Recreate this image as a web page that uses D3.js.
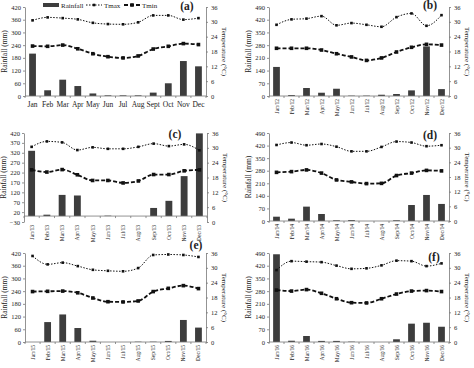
<!DOCTYPE html>
<html>
<head>
<meta charset="UTF-8">
<title>Rainfall and temperature</title>
<script src="https://d3js.org/d3.v7.min.js"></script>
<style>
  body { margin: 0; background: #fff; }
  svg { display: block; }
  text { font-family: "Liberation Serif", "Times New Roman", serif; fill: #222; }
  .axis path, .axis line { stroke: #777; stroke-width: 0.8; }
</style>
</head>
<body>
<svg id="chart" width="474" height="368"></svg>
<script>
// month labels
const monthNames = ["Jan", "Feb", "Mar", "Apr", "May", "Jun", "Jul", "Aug", "Sept", "Oct", "Nov", "Dec"];
const monthShort = ["Jan", "Feb", "Mar", "Apr", "May", "Jun", "Jul", "Aug", "Sep", "Oct", "Nov", "Dec"];

// rainfall (mm)
const rainA = [200, 27, 77, 47, 12, 3, 3, 3, 16, 60, 165, 140];
const rainB = [160, 5, 44, 18, 40, 2, 2, 7, 11, 31, 273, 38];
const rainC = [330, 7, 107, 104, 0, 2, 0, 0, 41, 77, 202, 418];
const rainD = [24, 13, 80, 39, 4, 5, 0, 0, 4, 89, 145, 95];
const rainE = [0, 94, 130, 66, 6, 0, 0, 1.5, 1.5, 5, 104, 68];
const rainF = [483, 7, 33, 6, 6, 2, 0, 0, 15, 101, 106, 84];

// max temperature (°C)
const tmaxA = [30.6, 31.8, 31.5, 31.0, 29.6, 29.1, 29.0, 29.8, 32.6, 32.6, 30.9, 31.5];
const tmaxB = [28.8, 31.0, 31.3, 32.3, 28.6, 29.5, 28.8, 28.0, 31.9, 33.4, 28.4, 32.7];
const tmaxC = [30.4, 32.6, 32.2, 29.1, 30.2, 29.6, 29.6, 30.4, 31.7, 30.7, 31.4, 29.0];
const tmaxD = [31.1, 32.1, 31.0, 31.5, 30.4, 28.5, 28.5, 30.3, 32.5, 32.1, 30.6, 31.0];
const tmaxE = [34.8, 31.4, 32.1, 30.7, 29.2, 28.8, 28.6, 29.9, 35.2, 35.4, 35.2, 34.4];
const tmaxF = [29.1, 32.7, 32.5, 32.3, 30.9, 29.6, 29.8, 31.0, 32.9, 32.7, 30.7, 31.8];

// min temperature (°C)
const tminA = [20.2, 20.1, 20.6, 19.1, 17.1, 15.9, 15.4, 16.2, 19.0, 20.1, 21.2, 20.8];
const tminB = [19.3, 19.3, 19.3, 18.6, 17.1, 15.8, 14.4, 15.4, 17.8, 19.7, 20.9, 20.6];
const tminC = [21.1, 20.2, 21.2, 19.1, 16.8, 16.8, 15.8, 16.6, 19.2, 19.2, 20.7, 21.1];
const tminD = [19.9, 20.2, 20.9, 19.6, 16.8, 16.0, 15.3, 15.4, 18.6, 19.6, 20.7, 20.5];
const tminE = [20.4, 20.5, 20.6, 19.9, 17.8, 16.3, 16.2, 16.6, 20.4, 21.7, 22.8, 21.6];
const tminF = [21.0, 20.6, 21.2, 19.7, 17.5, 15.9, 15.8, 17.5, 19.4, 20.6, 20.8, 20.4];

const tempTicks = [0, 6, 12, 18, 24, 30, 36];

const yearLabels = yr => monthShort.map(m => m + "/" + yr);

const panels = [
  { tag: "(a)", rain: rainA, tmax: tmaxA, tmin: tminA, labels: monthNames, rotate: false,
    left: 25, right: 206, top: 7, bottom: 96, rMin: 0, rMax: 420, rStep: 60, tagPos: [187, 10], legend: true },
  { tag: "(b)", rain: rainB, tmax: tmaxB, tmin: tminB, labels: yearLabels("12"), rotate: true,
    left: 269, right: 449, top: 7, bottom: 96, rMin: 0, rMax: 490, rStep: 70, tagPos: [430, 9] },
  { tag: "(c)", rain: rainC, tmax: tmaxC, tmin: tminC, labels: yearLabels("13"), rotate: true,
    left: 24, right: 207, top: 133, bottom: 222, rMin: -30, rMax: 420, rStep: 50, tagPos: [175, 138] },
  { tag: "(d)", rain: rainD, tmax: tmaxD, tmin: tminD, labels: yearLabels("14"), rotate: true,
    left: 269, right: 449, top: 133, bottom: 221, rMin: 0, rMax: 490, rStep: 70, tagPos: [430, 139] },
  { tag: "(e)", rain: rainE, tmax: tmaxE, tmin: tminE, labels: yearLabels("15"), rotate: true,
    left: 25, right: 206, top: 253, bottom: 342, rMin: 0, rMax: 420, rStep: 60, tagPos: [196, 249] },
  { tag: "(f)", rain: rainF, tmax: tmaxF, tmin: tminF, labels: yearLabels("16"), rotate: true,
    left: 269, right: 449, top: 253, bottom: 342, rMin: 0, rMax: 490, rStep: 70, tagPos: [434, 261] }
];

const svg = d3.select("#chart");

function drawPanel(p) {
  const g = svg.append("g");
  const x = d3.scaleBand().domain(p.labels).range([p.left, p.right]).paddingInner(0.55).paddingOuter(0.275);
  const yR = d3.scaleLinear().domain([p.rMin, p.rMax]).range([p.bottom, p.top]);
  const yT = d3.scaleLinear().domain([0, 36]).range([p.bottom, p.top]);
  const rTicks = d3.range(p.rMin, p.rMax + 1, p.rStep);

  // bars
  g.selectAll("rect.bar").data(p.rain).join("rect")
    .attr("class", "bar")
    .attr("x", (d, i) => x(p.labels[i]))
    .attr("width", x.bandwidth())
    .attr("y", d => yR(Math.max(d, 0)))
    .attr("height", d => Math.abs(yR(0) - yR(d)))
    .attr("fill", "#3d3d3d");

  // left axis
  const la = g.append("g").attr("class", "axis")
    .attr("transform", `translate(${p.left},0)`)
    .call(d3.axisLeft(yR).tickValues(rTicks).tickSize(2).tickSizeOuter(0).tickPadding(2));
  la.selectAll("text").style("font-size", "6.5px");

  // right axis
  const ra = g.append("g").attr("class", "axis")
    .attr("transform", `translate(${p.right},0)`)
    .call(d3.axisRight(yT).tickValues(tempTicks).tickSize(2).tickSizeOuter(0).tickPadding(3));
  ra.selectAll("text").style("font-size", "6.5px");

  // category axis line at zero
  const base = yR(0);
  g.append("line").attr("x1", p.left).attr("x2", p.right).attr("y1", base).attr("y2", base)
    .attr("stroke", "#777").attr("stroke-width", 0.8);
  const step = (p.right - p.left) / p.labels.length;
  g.selectAll("line.ct").data(d3.range(p.labels.length + 1)).join("line")
    .attr("class", "ct")
    .attr("x1", i => p.left + i * step).attr("x2", i => p.left + i * step)
    .attr("y1", base).attr("y2", base + 2)
    .attr("stroke", "#777").attr("stroke-width", 0.8);

  // category labels
  const cx = d => x(d) + x.bandwidth() / 2;
  if (p.rotate) {
    g.selectAll("text.cat").data(p.labels).join("text")
      .attr("class", "cat")
      .attr("transform", d => `translate(${cx(d) + 2},${p.bottom + 3}) rotate(-90)`)
      .attr("text-anchor", "end")
      .style("font-size", "5.5px")
      .text(d => d);
  } else {
    g.selectAll("text.cat").data(p.labels).join("text")
      .attr("class", "cat")
      .attr("x", cx).attr("y", p.bottom + 10.5)
      .attr("text-anchor", "middle")
      .style("font-size", "7.5px")
      .text(d => d);
  }

  // lines
  const lineT = d3.line().x((d, i) => cx(p.labels[i])).y(d => yT(d)).curve(d3.curveMonotoneX);
  g.append("path").datum(p.tmax).attr("d", lineT)
    .attr("fill", "none").attr("stroke", "#111").attr("stroke-width", 1).attr("stroke-dasharray", "1.5,1.5");
  g.selectAll("rect.mx").data(p.tmax).join("rect")
    .attr("class", "mx")
    .attr("x", (d, i) => cx(p.labels[i]) - 1.3).attr("y", d => yT(d) - 1.3)
    .attr("width", 2.6).attr("height", 2.6).attr("fill", "#111");
  g.append("path").datum(p.tmin).attr("d", lineT)
    .attr("fill", "none").attr("stroke", "#111").attr("stroke-width", 1.8).attr("stroke-dasharray", "4,2");
  g.selectAll("rect.mn").data(p.tmin).join("rect")
    .attr("class", "mn")
    .attr("x", (d, i) => cx(p.labels[i]) - 1.8).attr("y", d => yT(d) - 1.8)
    .attr("width", 3.6).attr("height", 3.6).attr("fill", "#111");

  // axis titles
  const ly = (p.top + p.bottom) / 2;
  g.append("text")
    .attr("transform", `translate(${p.left - 18},${ly}) rotate(-90)`)
    .attr("text-anchor", "middle").style("font-size", "7.5px")
    .text("Rainfall (mm)");
  g.append("text")
    .attr("transform", `translate(${p.right + 16},${ly}) rotate(90)`)
    .attr("text-anchor", "middle").style("font-size", "7px")
    .text("Temperature (°C)");

  // panel tag
  g.append("text").attr("x", p.tagPos[0]).attr("y", p.tagPos[1])
    .attr("text-anchor", "middle").style("font-size", "11.5px").style("font-weight", "bold")
    .text(p.tag);

  if (p.legend) {
    const lg = g.append("g").style("font-size", "7px");
    lg.append("rect").attr("x", 43).attr("y", 3).attr("width", 16).attr("height", 4).attr("fill", "#3d3d3d");
    lg.append("text").attr("x", 61).attr("y", 7.5).text("Rainfall");
    lg.append("line").attr("x1", 86).attr("x2", 102).attr("y1", 5).attr("y2", 5)
      .attr("stroke", "#111").attr("stroke-width", 1).attr("stroke-dasharray", "1.5,1.5");
    lg.append("rect").attr("x", 92.7).attr("y", 3.7).attr("width", 2.6).attr("height", 2.6).attr("fill", "#111");
    lg.append("text").attr("x", 104).attr("y", 7.5).text("Tmax");
    lg.append("line").attr("x1", 124).attr("x2", 140).attr("y1", 5).attr("y2", 5)
      .attr("stroke", "#111").attr("stroke-width", 1.8).attr("stroke-dasharray", "4,2");
    lg.append("rect").attr("x", 130.2).attr("y", 3.2).attr("width", 3.6).attr("height", 3.6).attr("fill", "#111");
    lg.append("text").attr("x", 142).attr("y", 7.5).text("Tmin");
  }
}

panels.forEach(drawPanel);
</script>
</body>
</html>
